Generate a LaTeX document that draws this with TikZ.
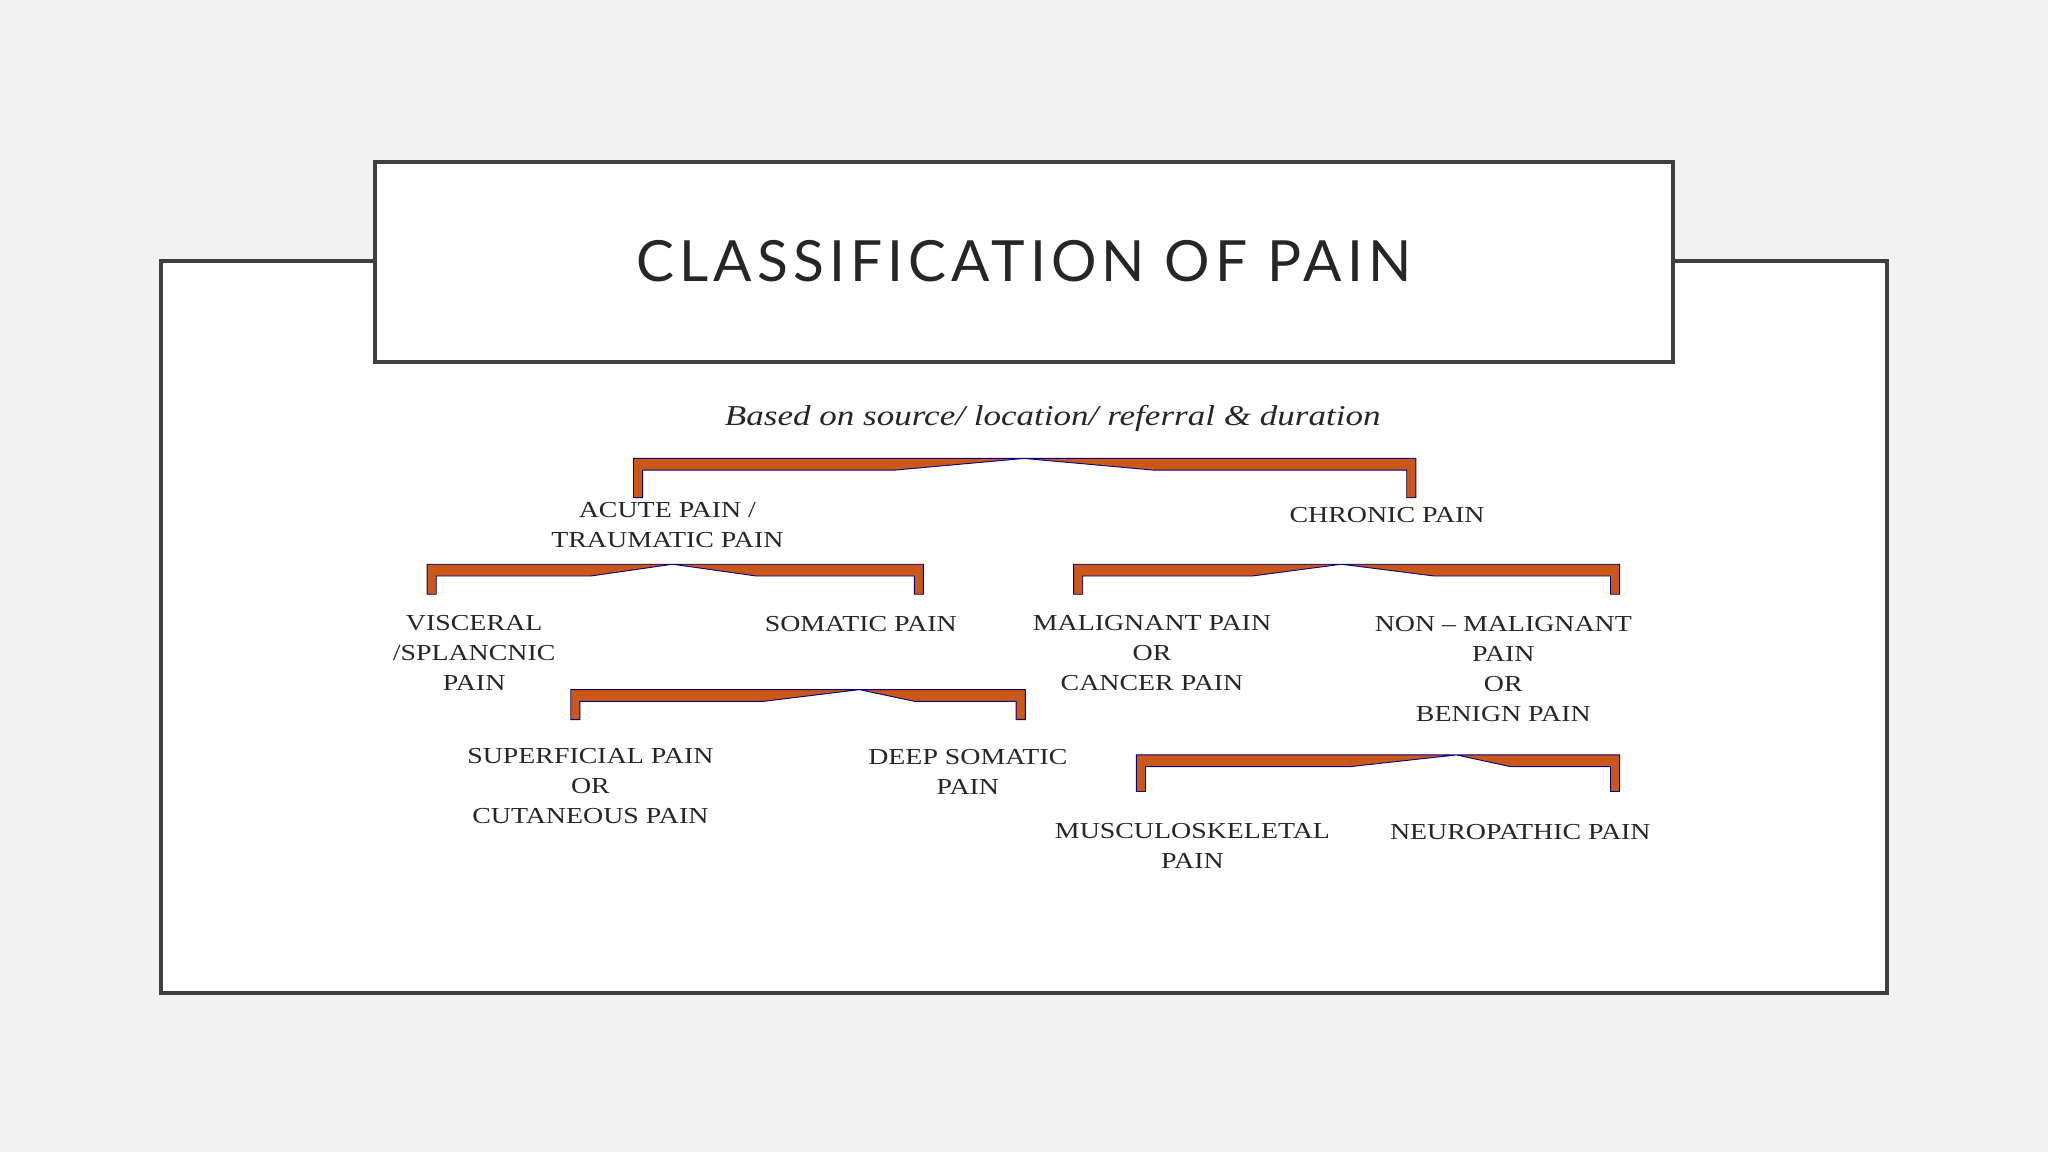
\documentclass[tikz,border=0pt]{standalone}
\usepackage{fontspec}
\setmainfont{Liberation Serif}[FakeStretch=1.22]
\newfontfamily\titlefont[LetterSpace=9]{Lato}
\definecolor{brorange}{RGB}{204,88,24}
\begin{document}
\begin{tikzpicture}[x=1pt,y=-1pt,
  frame/.style={draw=black!75,line width=3pt,fill=white},
  lbl/.style={align=center,font=\fontsize{17.5}{23}\selectfont,text=black!85,inner sep=0pt},
  br/.style={fill=brorange,draw=blue!50!black,line width=0.7pt}]
\newcommand{\painbr}[5]{% x1 x2 ytop ybot xc
  \pgfmathsetmacro{\hl}{(#5-#1)/3}\pgfmathsetmacro{\hr}{(#2-#5)/3}
  \draw[br] (#1,#3) -- (#2,#3) -- (#2,#4) -- (#2-7,#4) -- (#2-7,#3+9) -- (#5+\hr,#3+9) -- (#5,#3)
    -- (#5-\hl,#3+9) -- (#1+7,#3+9) -- (#1+7,#4) -- (#1,#4) -- cycle;}
\useasboundingbox (0,0) rectangle (1568,882);
\fill[black!5] (0,0) rectangle (1568,882);
\draw[frame] (123,200) rectangle (1445,760);
\draw[frame] (287,124) rectangle (1281,277);
\node[inner sep=0pt,text=black!85,font=\titlefont\fontsize{43.5}{44}\selectfont] (title) at (784,200) {CLASSIFICATION OF PAIN};
\node[inner sep=0pt,text=black!85,font=\itshape\fontsize{22}{26}\selectfont] (sub) at (806,320) {Based on source/ location/ referral \& duration};
\painbr{485}{1084}{351}{381}{784}
\painbr{327}{707}{432}{455}{515}
\painbr{822}{1240}{432}{455}{1027}
\painbr{437}{785}{528}{551}{658}
\painbr{870}{1240}{578}{606}{1115}
\node[lbl] (acute) at (511,402) {ACUTE PAIN /\\TRAUMATIC PAIN};
\node[lbl] (chronic) at (1062,394) {CHRONIC PAIN};
\node[lbl] (visc) at (363,500) {VISCERAL\\/SPLANCNIC\\PAIN};
\node[lbl] (som) at (659,478) {SOMATIC PAIN};
\node[lbl] (mal) at (882,500) {MALIGNANT PAIN\\OR\\CANCER PAIN};
\node[lbl] (non) at (1151,512) {NON – MALIGNANT\\PAIN\\OR\\BENIGN PAIN};
\node[lbl] (sup) at (452,602) {SUPERFICIAL PAIN\\OR\\CUTANEOUS PAIN};
\node[lbl] (deep) at (741,591) {DEEP SOMATIC\\PAIN};
\node[lbl] (musc) at (913,648) {MUSCULOSKELETAL\\PAIN};
\node[lbl] (neuro) at (1164,637) {NEUROPATHIC PAIN};
\end{tikzpicture}
\end{document}
